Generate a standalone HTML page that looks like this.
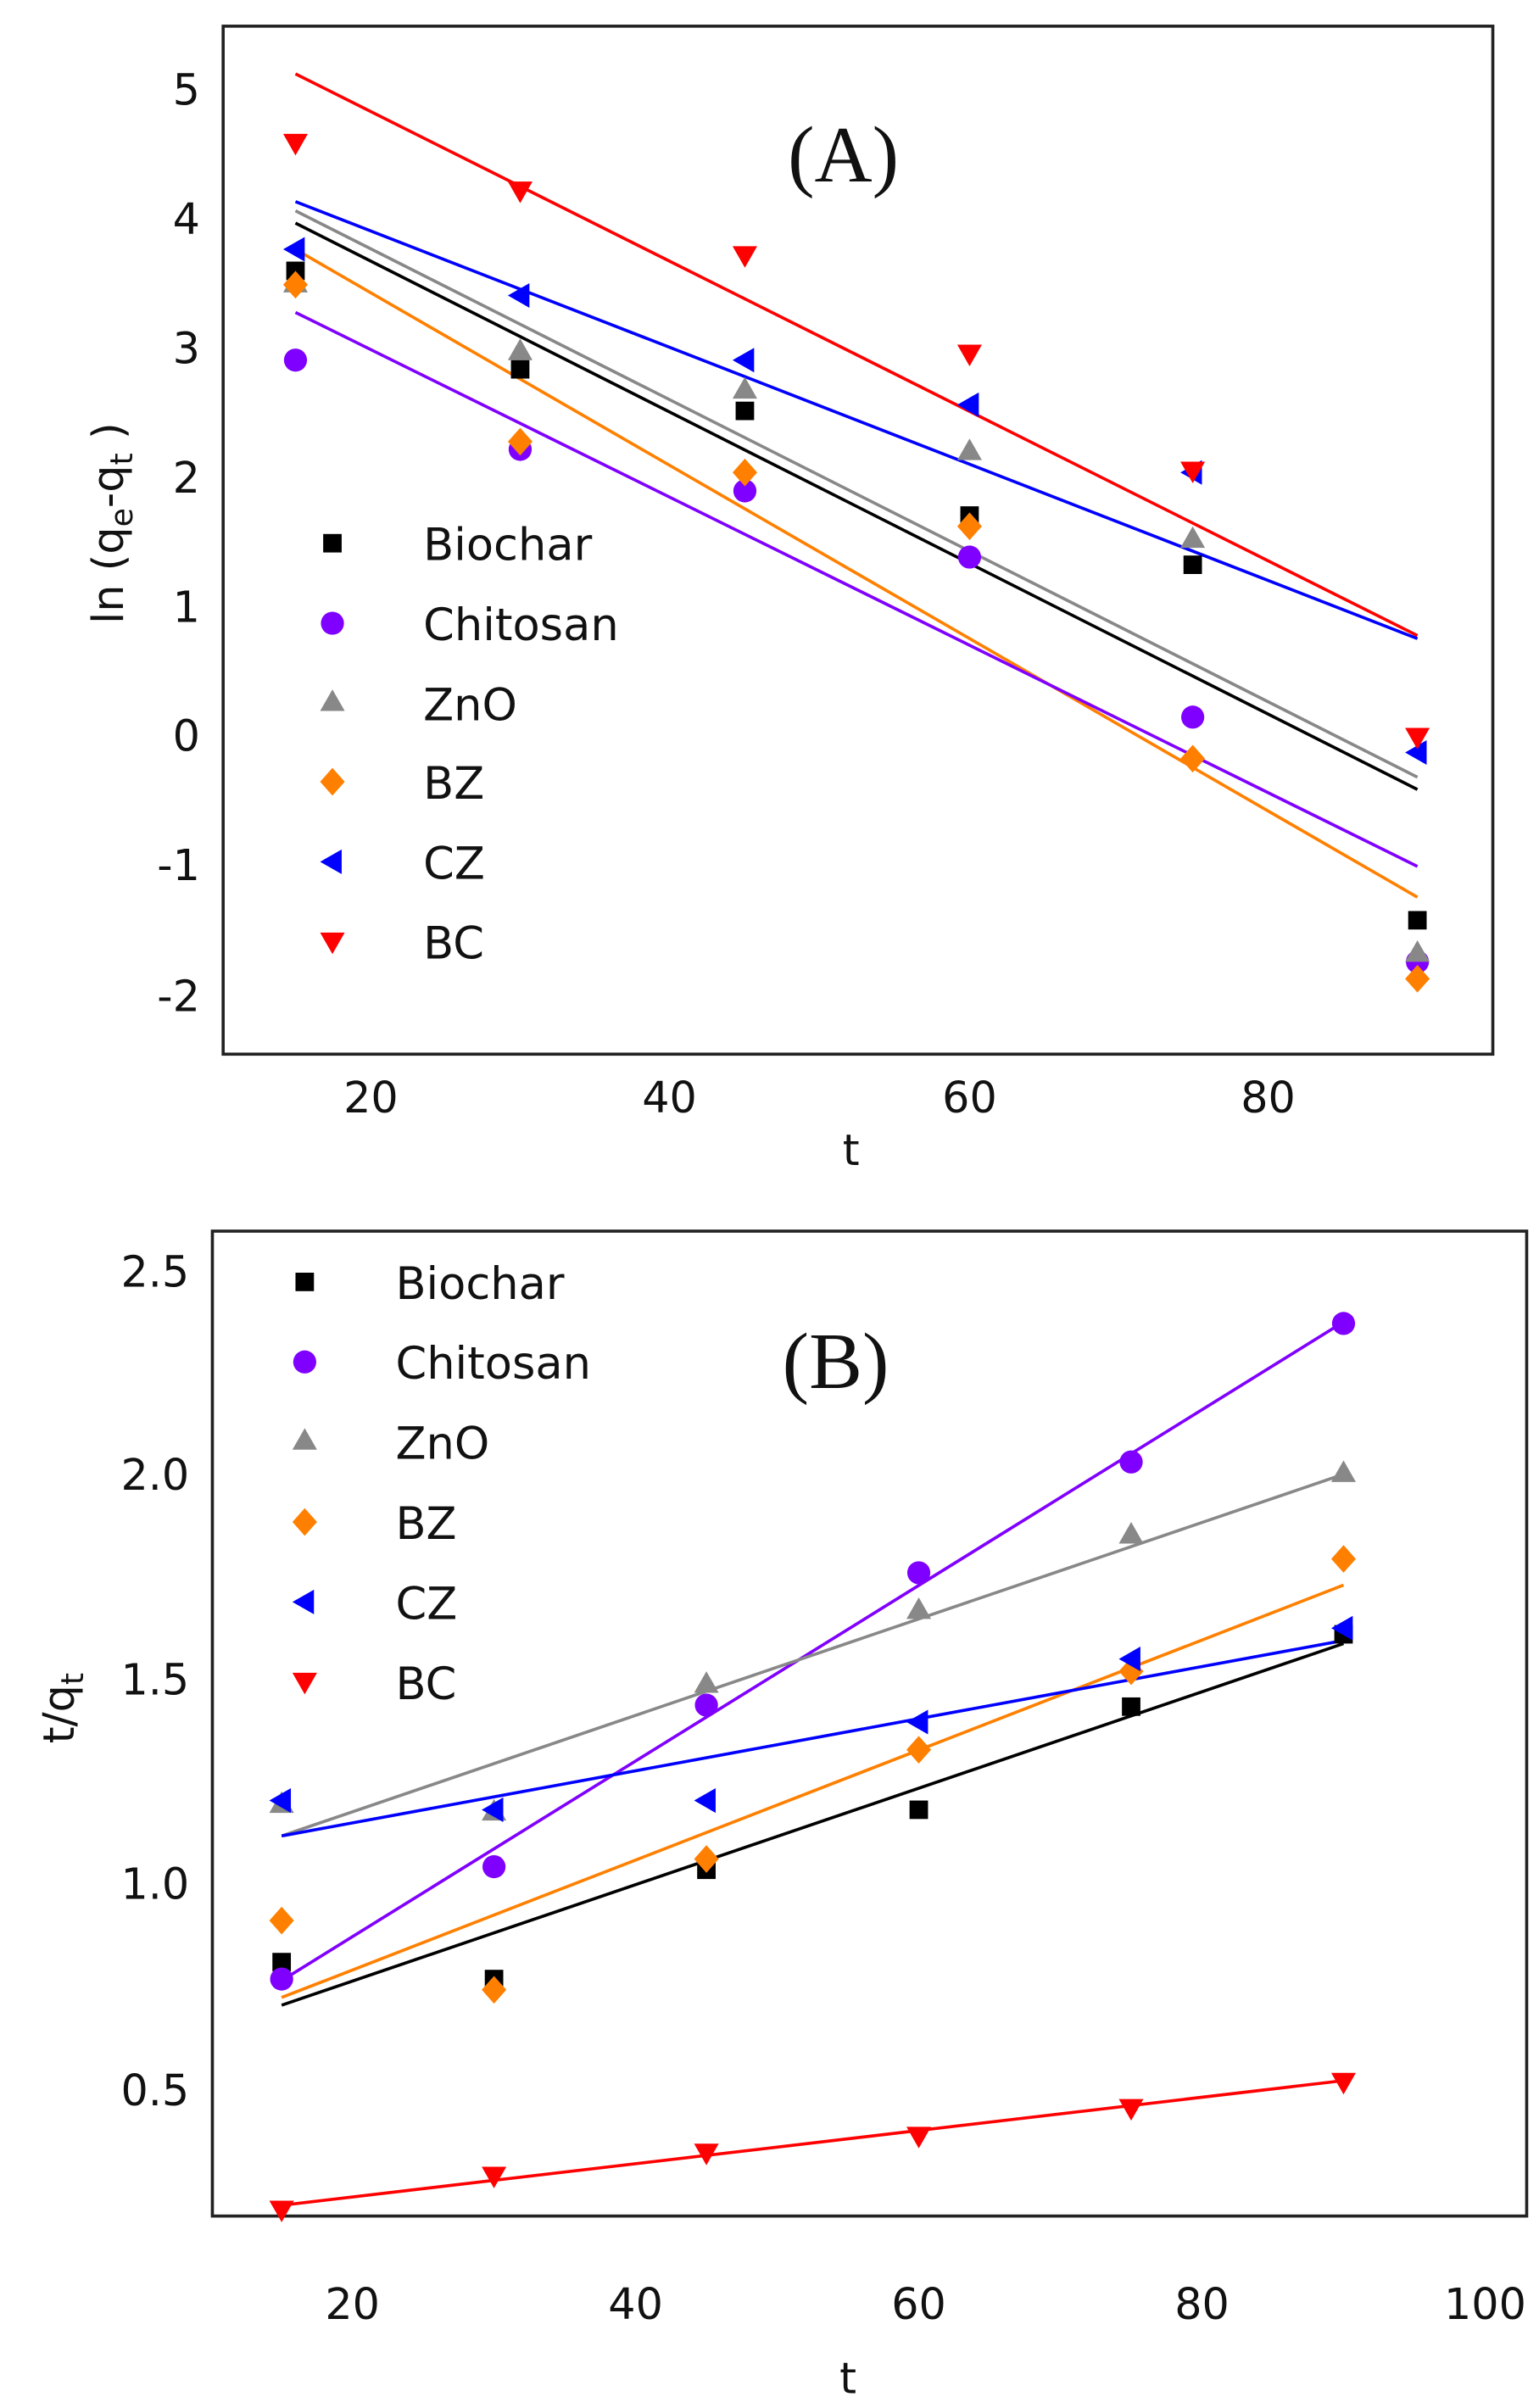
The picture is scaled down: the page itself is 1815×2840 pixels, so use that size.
<!DOCTYPE html>
<html><head><meta charset="utf-8"><style>
html,body{margin:0;padding:0;background:#fff}
svg{display:block}
text{font-family:"DejaVu Sans","Liberation Sans",sans-serif;fill:#111}
</style></head><body>
<svg width="1815" height="2840" viewBox="0 0 1000 1564.74" xmlns="http://www.w3.org/2000/svg">
<defs>
<rect id="sq" x="-6" y="-6" width="12" height="12"/>
<circle id="ci" r="7.5"/>
<polygon id="tu" points="0,-8 8,6 -8,6"/>
<polygon id="di" points="0,-9 8,0 0,9 -8,0"/>
<polygon id="tl" points="-8,0 6,-8 6,8"/>
<polygon id="td" points="0,8 8,-6 -8,-6"/>
</defs>
<!-- Panel A -->
<rect x="145" y="17" width="825" height="668" fill="none" stroke="#222" stroke-width="2"/>
<g font-size="28" text-anchor="end">
<text x="130" y="68">5</text><text x="130" y="152">4</text><text x="130" y="236">3</text><text x="130" y="320">2</text><text x="130" y="404">1</text><text x="130" y="488">0</text><text x="130" y="572">-1</text><text x="130" y="657">-2</text>
</g>
<g font-size="28" text-anchor="middle">
<text x="241" y="723">20</text><text x="435" y="723">40</text><text x="630" y="723">60</text><text x="824" y="723">80</text>
<text x="553" y="757">t</text>
</g>
<text transform="translate(80,340) rotate(-90)" font-size="28" text-anchor="middle">ln (q<tspan font-size="20" dy="6">e</tspan><tspan dy="-6">-q</tspan><tspan font-size="20" dy="6">t</tspan><tspan dy="-6"> )</tspan></text>
<text x="548" y="118" font-size="52" text-anchor="middle" style="font-family:'Liberation Serif',serif">(A)</text>
<g stroke-width="2">
<line x1="192" y1="48" x2="921" y2="413" stroke="#f00"/>
<line x1="192" y1="131" x2="921" y2="415" stroke="#00f"/>
<line x1="192" y1="137" x2="921" y2="505" stroke="#888"/>
<line x1="192" y1="145" x2="921" y2="513" stroke="#000"/>
<line x1="192" y1="162" x2="921" y2="583" stroke="#ff8000"/>
<line x1="192" y1="203" x2="921" y2="563" stroke="#8000ff"/>
</g>
<g fill="#000"><use href="#sq" x="192" y="176"/><use href="#sq" x="338" y="240"/><use href="#sq" x="484" y="267"/><use href="#sq" x="630" y="335"/><use href="#sq" x="775" y="367"/><use href="#sq" x="921" y="598"/></g>
<g fill="#8000ff"><use href="#ci" x="192" y="234"/><use href="#ci" x="338" y="292"/><use href="#ci" x="484" y="319"/><use href="#ci" x="630" y="362"/><use href="#ci" x="775" y="466"/><use href="#ci" x="921" y="625"/></g>
<g fill="#888"><use href="#tu" x="192" y="184"/><use href="#tu" x="338" y="228"/><use href="#tu" x="484" y="253"/><use href="#tu" x="630" y="293"/><use href="#tu" x="775" y="350"/><use href="#tu" x="921" y="619"/></g>
<g fill="#ff8000"><use href="#di" x="192" y="185"/><use href="#di" x="338" y="287"/><use href="#di" x="484" y="307"/><use href="#di" x="630" y="342"/><use href="#di" x="775" y="493"/><use href="#di" x="921" y="636"/></g>
<g fill="#00f"><use href="#tl" x="192" y="162"/><use href="#tl" x="338" y="192"/><use href="#tl" x="484" y="234"/><use href="#tl" x="630" y="263"/><use href="#tl" x="775" y="307"/><use href="#tl" x="921" y="489"/></g>
<g fill="#f00"><use href="#td" x="192" y="93"/><use href="#td" x="338" y="124"/><use href="#td" x="484" y="166"/><use href="#td" x="630" y="230"/><use href="#td" x="775" y="306"/><use href="#td" x="921" y="479"/></g>
<use href="#sq" x="216" y="353" fill="#000"/><use href="#ci" x="216" y="405" fill="#8000ff"/><use href="#tu" x="216" y="456" fill="#888"/><use href="#di" x="216" y="508" fill="#ff8000"/><use href="#tl" x="216" y="560" fill="#00f"/><use href="#td" x="216" y="612" fill="#f00"/>
<g font-size="29">
<text x="275" y="364">Biochar</text><text x="275" y="416">Chitosan</text><text x="275" y="468">ZnO</text><text x="275" y="519">BZ</text><text x="275" y="571">CZ</text><text x="275" y="623">BC</text>
</g>
<!-- Panel B -->
<rect x="138" y="800" width="854" height="640" fill="none" stroke="#222" stroke-width="2"/>
<g font-size="28" text-anchor="end">
<text x="123" y="836">2.5</text><text x="123" y="968">2.0</text><text x="123" y="1101">1.5</text><text x="123" y="1234">1.0</text><text x="123" y="1368">0.5</text>
</g>
<g font-size="28" text-anchor="middle">
<text x="229" y="1507">20</text><text x="413" y="1507">40</text><text x="597" y="1507">60</text><text x="781" y="1507">80</text><text x="965" y="1507">100</text>
<text x="551" y="1555">t</text>
</g>
<text transform="translate(48,1110) rotate(-90)" font-size="28" text-anchor="middle">t/q<tspan font-size="20" dy="6">t</tspan></text>
<text x="543" y="902" font-size="52" text-anchor="middle" style="font-family:'Liberation Serif',serif">(B)</text>
<g stroke-width="2">
<line x1="183" y1="1287" x2="873" y2="859" stroke="#8000ff"/>
<line x1="183" y1="1193" x2="873" y2="958" stroke="#888"/>
<line x1="183" y1="1298" x2="873" y2="1030" stroke="#ff8000"/>
<line x1="183" y1="1193" x2="873" y2="1066" stroke="#00f"/>
<line x1="183" y1="1303" x2="873" y2="1068" stroke="#000"/>
<line x1="183" y1="1433" x2="873" y2="1352" stroke="#f00"/>
</g>
<g fill="#000"><use href="#sq" x="183" y="1275"/><use href="#sq" x="321" y="1286"/><use href="#sq" x="459" y="1215"/><use href="#sq" x="597" y="1176"/><use href="#sq" x="735" y="1109"/><use href="#sq" x="873" y="1062"/></g>
<g fill="#888"><use href="#tu" x="183" y="1172"/><use href="#tu" x="321" y="1177"/><use href="#tu" x="459" y="1094"/><use href="#tu" x="597" y="1046"/><use href="#tu" x="735" y="997"/><use href="#tu" x="873" y="957"/></g>
<g fill="#ff8000"><use href="#di" x="183" y="1248"/><use href="#di" x="321" y="1293"/><use href="#di" x="459" y="1208"/><use href="#di" x="597" y="1137"/><use href="#di" x="735" y="1086"/><use href="#di" x="873" y="1013"/></g>
<g fill="#00f"><use href="#tl" x="183" y="1170"/><use href="#tl" x="321" y="1176"/><use href="#tl" x="459" y="1170"/><use href="#tl" x="597" y="1119"/><use href="#tl" x="735" y="1078"/><use href="#tl" x="873" y="1058"/></g>
<g fill="#8000ff"><use href="#ci" x="183" y="1286"/><use href="#ci" x="321" y="1213"/><use href="#ci" x="459" y="1108"/><use href="#ci" x="597" y="1022"/><use href="#ci" x="735" y="950"/><use href="#ci" x="873" y="860"/></g>
<g fill="#f00"><use href="#td" x="183" y="1436"/><use href="#td" x="321" y="1414"/><use href="#td" x="459" y="1399"/><use href="#td" x="597" y="1388"/><use href="#td" x="735" y="1370"/><use href="#td" x="873" y="1353"/></g>
<use href="#sq" x="198" y="833" fill="#000"/><use href="#ci" x="198" y="885" fill="#8000ff"/><use href="#tu" x="198" y="936" fill="#888"/><use href="#di" x="198" y="989" fill="#ff8000"/><use href="#tl" x="198" y="1041" fill="#00f"/><use href="#td" x="198" y="1093" fill="#f00"/>
<g font-size="29">
<text x="257" y="844">Biochar</text><text x="257" y="896">Chitosan</text><text x="257" y="948">ZnO</text><text x="257" y="1000">BZ</text><text x="257" y="1052">CZ</text><text x="257" y="1104">BC</text>
</g>
</svg>
</body></html>
